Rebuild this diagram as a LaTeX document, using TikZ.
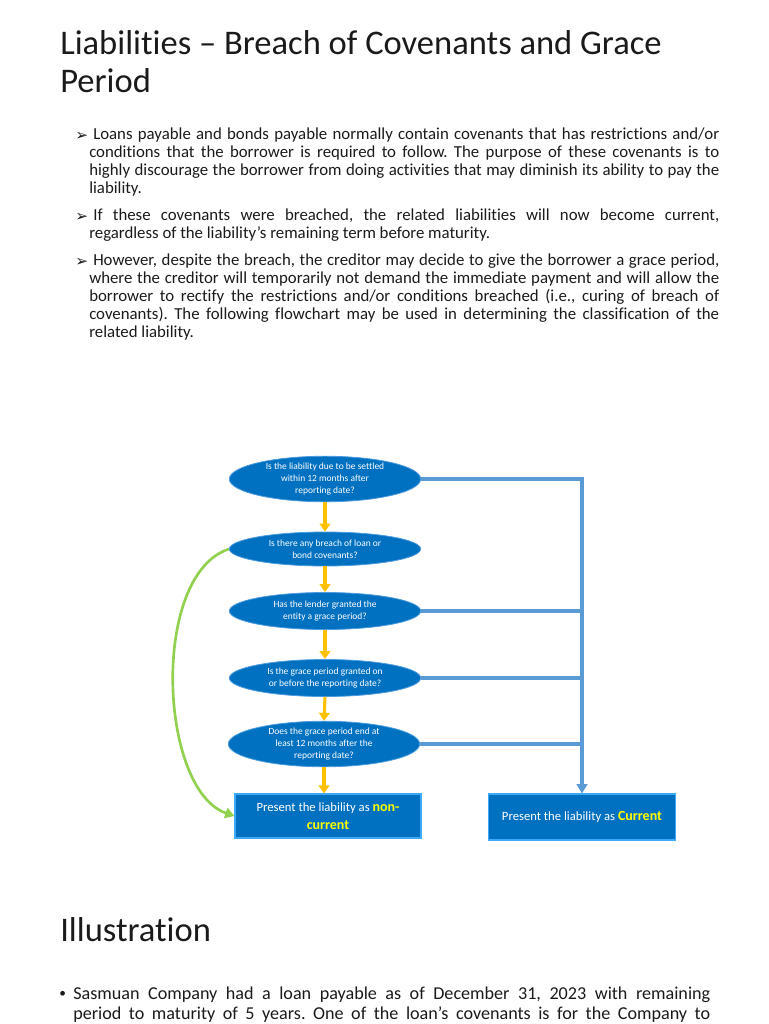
\documentclass[tikz,border=0pt]{standalone}
\usepackage{fontspec}
\setmainfont{Carlito}[Ligatures=NoCommon]
\newfontfamily\djv{DejaVu Sans}
\usetikzlibrary{shapes.geometric,arrows.meta}
\definecolor{qblue}{HTML}{0070C0}
\definecolor{qedge}{HTML}{4A9BE0}
\definecolor{qbedge}{HTML}{3FA9F5}
\definecolor{qorange}{HTML}{FFC000}
\definecolor{qline}{HTML}{5B9BD5}
\definecolor{qgreen}{HTML}{92D050}
\definecolor{qyellow}{HTML}{FFFF00}
\definecolor{qtext}{HTML}{1A1A1A}
\frenchspacing
\begin{document}
\begin{tikzpicture}[x=0.75pt,y=-0.75pt,
  q/.style={ellipse, fill=qblue, draw=qedge, line width=0.6pt, minimum width=143.5pt, inner sep=0pt, text=white, align=center, font=\fontsize{7.1}{9}\selectfont},
  res/.style={rectangle, fill=qblue, draw=qbedge, line width=0.8pt, inner sep=0pt, text=white, align=center, font=\fontsize{9.5}{13.5}\selectfont},
  yesarrow/.style={draw=qorange, line width=2.3pt, -{Triangle[width=8pt,length=6pt]}},
  noline/.style={draw=qline, line width=2.3pt},
  greenarrow/.style={draw=qgreen, line width=2pt, -{Triangle[width=8pt,length=7pt]}},
  body/.style={anchor=north west, inner sep=0pt, text width=472.5pt, align=justify, font=\fontsize{12.6}{13.5}\selectfont, text=qtext},
  bul/.style={anchor=base west, inner sep=0pt, font=\djv\fontsize{11.5}{12}\selectfont, text=qtext},
  head/.style={anchor=base west, inner sep=0pt, font=\fontsize{25.9}{28.5}\selectfont, text=qtext}
]
\useasboundingbox (0,0) rectangle (768,1024);

% Title
\node[head] (t1) at (60,55) {Liabilities – Breach of Covenants and Grace};
\node[head] (t2) at (60,93) {Period};

% Bullets
\node[bul] (m1) at (75,140) {➢};
\node[body] (b1) at (89,127) {\strut\hspace*{3pt}Loans payable and bonds payable normally contain covenants that has restrictions and/or\linebreak conditions that the borrower is required to follow. The purpose of these covenants is to\linebreak highly discourage the borrower from doing activities that may diminish its ability to pay the\linebreak liability.};
\node[bul] (m2) at (75,221) {➢};
\node[body] (b2) at (89,208) {\strut\hspace*{3pt}If these covenants were breached, the related liabilities will now become current,\linebreak regardless of the liability’s remaining term before maturity.};
\node[bul] (m3) at (75,266) {➢};
\node[body] (b3) at (89,253) {\strut\hspace*{3pt}However, despite the breach, the creditor may decide to give the borrower a grace period,\linebreak where the creditor will temporarily not demand the immediate payment and will allow the\linebreak borrower to rectify the restrictions and/or conditions breached (i.e., curing of breach of\linebreak covenants). The following flowchart may be used in determining the classification of the\linebreak related liability.};

% Flowchart
\node[q, minimum height=33.75pt] (e1) at (325,479) {Is the liability due to be settled\\within 12 months after\\reporting date?};
\node[q, minimum height=25.5pt] (e2) at (325,549) {Is there any breach of loan or\\bond covenants?};
\node[q, minimum height=27.75pt] (e3) at (325,611) {Has the lender granted the\\entity a grace period?};
\node[q, minimum height=27.75pt] (e4) at (325,678) {Is the grace period granted on\\or before the reporting date?};
\node[q, minimum height=31.5pt] (e5) at (324,744) {Does the grace period end at\\least 12 months after the\\reporting date?};
\node[res, minimum width=139.5pt, minimum height=33pt] (nc) at (328,816) {Present the liability as {\bfseries\fontsize{10.5}{13.5}\selectfont\color{qyellow}non-}\\{\bfseries\fontsize{10.5}{13.5}\selectfont\color{qyellow}current}};
\node[res, minimum width=140.25pt, minimum height=34.5pt] (cur) at (582,817) {Present the liability as {\bfseries\fontsize{10.5}{13.5}\selectfont\color{qyellow}Current}};

\draw[yesarrow] (e1.south) -- (e2.north);
\draw[yesarrow] (e2.south) -- (e3.north);
\draw[yesarrow] (e3.south) -- (e4.north);
\draw[yesarrow] (e4.south) -- (e5.north);
\draw[yesarrow] (e5.south) -- (e5.south |- nc.north);

\draw[noline, -{Triangle[width=8pt,length=7pt]}] (e1.east) -| (cur.north);
\draw[noline] (e3.east) -- (e3.east -| cur.north);
\draw[noline] (e4.east) -- (e4.east -| cur.north);
\draw[noline] (e5.east) -- (e5.east -| cur.north);

\draw[greenarrow] (e2.west) .. controls (150,575) and (159,790) .. (nc.west);

% Illustration
\node[head] (ill) at (60,941) {Illustration};
\node[anchor=base west, inner sep=0pt, font=\fontsize{10}{15}\selectfont, text=qtext] (m4) at (59,997) {•};
\node[anchor=north west, inner sep=0pt, text width=477.75pt, align=justify, font=\fontsize{13.6}{15}\selectfont, text=qtext] (b4) at (73,985) {\strut Sasmuan Company had a loan payable as of December 31, 2023 with remaining\linebreak period to maturity of 5 years. One of the loan’s covenants is for the Company to\linebreak};
\end{tikzpicture}
\end{document}
